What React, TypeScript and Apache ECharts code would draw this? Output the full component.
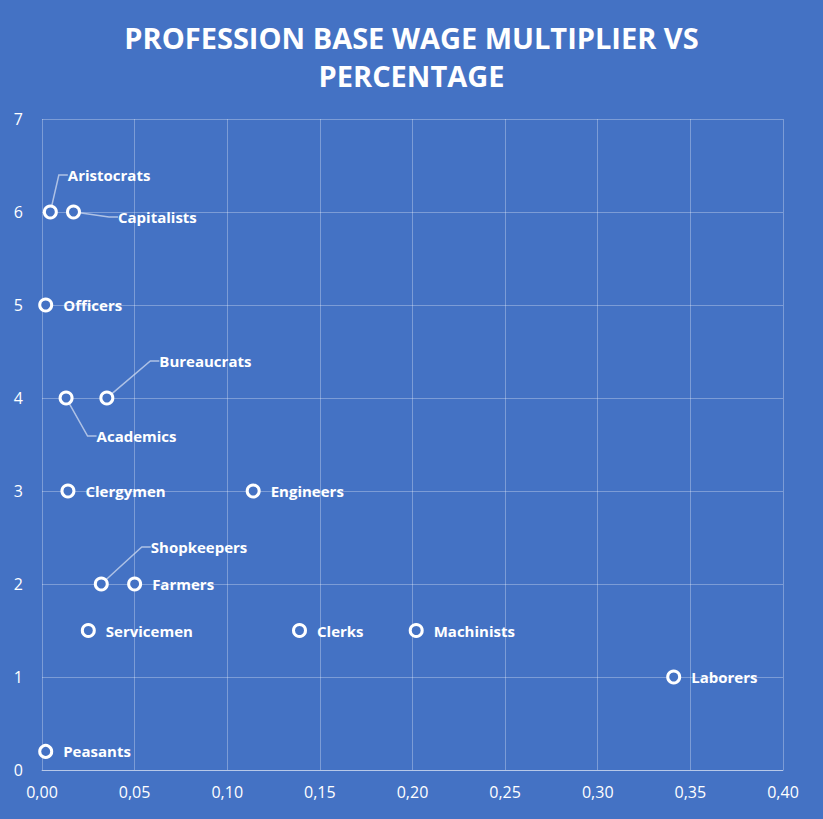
import { useEffect, useRef } from 'react';
import * as echarts from 'echarts';

const professions = [
  'Aristocrats', 'Capitalists', 'Officers', 'Bureaucrats', 'Academics',
  'Clergymen', 'Engineers', 'Shopkeepers', 'Farmers', 'Servicemen',
  'Clerks', 'Machinists', 'Laborers', 'Peasants'
];
const percentage = [
  0.0045, 0.017, 0.002, 0.035, 0.013,
  0.014, 0.114, 0.032, 0.050, 0.025,
  0.139, 0.202, 0.341, 0.002
];
const wageMultiplier = [
  6, 6, 5, 4, 4,
  3, 3, 2, 2, 1.5,
  1.5, 1.5, 1, 0.2
];

// labels that are pulled away from their point (with a leader line)
const labelShift: Record<string, [number, number]> = {
  Aristocrats: [-4, -37],
  Capitalists: [23, 5],
  Bureaucrats: [31, -37],
  Academics: [9, 38],
  Shopkeepers: [28, -37]
};

const FONT = '"Open Sans", "Noto Sans", sans-serif';

export default function App() {
  const chartRef = useRef<HTMLDivElement>(null);

  useEffect(() => {
    if (!chartRef.current) return;
    const chart = echarts.init(chartRef.current, null, { renderer: 'svg' });

    const gridLine = { lineStyle: { color: 'rgba(255,255,255,0.3)', width: 1 } };

    chart.setOption({
      animation: false,
      backgroundColor: '#4472C4',
      title: {
        text: 'PROFESSION BASE WAGE MULTIPLIER VS\nPERCENTAGE',
        left: 'center',
        top: 13,
        textStyle: {
          color: '#ffffff',
          fontFamily: FONT,
          fontSize: 29,
          fontWeight: 'bold',
          lineHeight: 38
        }
      },
      grid: { left: 42, right: 40, top: 119, bottom: 49 },
      xAxis: {
        type: 'value',
        min: 0,
        max: 0.4,
        interval: 0.05,
        axisLine: { show: true, lineStyle: { color: 'rgba(255,255,255,0.45)' } },
        axisTick: { show: false },
        splitLine: gridLine,
        axisLabel: {
          color: '#ffffff',
          fontFamily: FONT,
          fontSize: 16,
          margin: 14,
          formatter: (v: number) => v.toFixed(2).replace('.', ',')
        }
      },
      yAxis: {
        type: 'value',
        min: 0,
        max: 7,
        interval: 1,
        axisLine: { show: false },
        axisTick: { show: false },
        splitLine: gridLine,
        axisLabel: {
          color: '#ffffff',
          fontFamily: FONT,
          fontSize: 16,
          margin: 19
        }
      },
      series: [
        {
          type: 'scatter',
          symbol: 'circle',
          symbolSize: 12,
          itemStyle: { color: '#4472C4', borderColor: '#ffffff', borderWidth: 3, opacity: 1 },
          data: professions.map((name, i) => {
            const shifted = !!labelShift[name];
            return {
              name,
              value: [percentage[i], wageMultiplier[i]],
              label: shifted ? { padding: [2, 4, 2, 4] } : undefined,
              labelLine: { show: shifted }
            };
          }),
          label: {
            show: true,
            position: 'right',
            distance: 10,
            formatter: '{b}',
            color: '#ffffff',
            fontFamily: FONT,
            fontSize: 15,
            fontWeight: 'bold'
          },
          labelLine: {
            show: false,
            length2: 9,
            lineStyle: { color: 'rgba(210,220,240,0.75)', width: 1.5 }
          },
          labelLayout: (params: any) => {
            const s = labelShift[professions[params.dataIndex]];
            return s ? { dx: s[0], dy: s[1] } : {};
          },
          emphasis: { disabled: true }
        }
      ]
    });

    return () => chart.dispose();
  }, []);

  return (
    <div
      ref={chartRef}
      style={{ position: 'absolute', left: 0, top: 0, width: 823, height: 819 }}
    />
  );
}
